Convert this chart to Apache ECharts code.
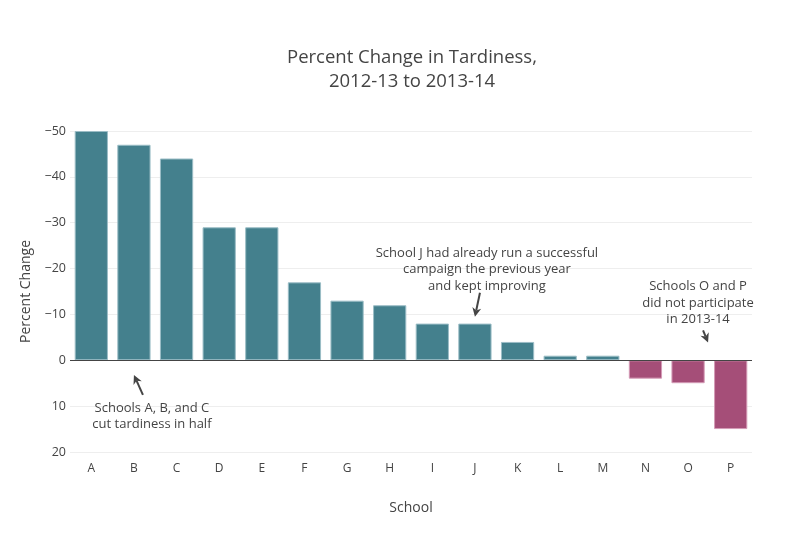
<!DOCTYPE html>
<html>
<head>
<meta charset="utf-8">
<script src="https://cdn.jsdelivr.net/npm/echarts@6/dist/echarts.min.js"></script>
<style>
  html, body { margin: 0; padding: 0; background: #fff; }
  #container { width: 800px; height: 533px; }
</style>
</head>
<body>
<div id="container"></div>
<script>
// chart data
var schools = ['A', 'B', 'C', 'D', 'E', 'F', 'G', 'H', 'I', 'J', 'K', 'L', 'M', 'N', 'O', 'P'];
var pctChange = [-50, -47, -44, -29, -29, -17, -13, -12, -8, -8, -4, -1, -1, 4, 5, 15];
var yTicks = [-50, -40, -30, -20, -10, 0, 10, 20];

var FONT = '"Open Sans", "Noto Sans", sans-serif';
var TXT = '#444';

var myChart = echarts.init(document.getElementById('container'));

var barData = pctChange.map(function (v) {
    var up = v > 0;
    return {
        value: v,
        itemStyle: {
            color: up ? '#a54e78' : '#44808d',
            borderColor: up ? '#d49bb6' : '#9bbdc6'
        }
    };
});

var option = {
    backgroundColor: '#fff',
    animation: false,
    title: {
        text: 'Percent Change in Tardiness,\n2012-13 to 2013-14',
        left: 407,
        top: 41,
        textAlign: 'center',
        textStyle: { fontFamily: FONT, fontSize: 18.5, fontWeight: 'normal', color: TXT, lineHeight: 24 }
    },
    grid: { left: 70, right: 48, top: 131, bottom: 81 },
    xAxis: {
        type: 'category',
        data: schools,
        name: 'School',
        nameLocation: 'middle',
        nameGap: 49,
        nameTextStyle: { fontFamily: FONT, fontSize: 14, color: TXT },
        axisLine: { show: false },
        axisTick: { show: false },
        axisLabel: { fontFamily: FONT, fontSize: 12, color: TXT, margin: 11 }
    },
    yAxis: {
        type: 'value',
        inverse: true,
        min: yTicks[0],
        max: yTicks[yTicks.length - 1],
        interval: 10,
        name: 'Percent Change',
        nameLocation: 'middle',
        nameRotate: 90,
        nameGap: 37,
        nameTextStyle: { fontFamily: FONT, fontSize: 14, color: TXT },
        axisLine: { show: false },
        axisTick: { show: false },
        splitLine: { lineStyle: { color: '#eeeeee', width: 1 } },
        axisLabel: {
            fontFamily: FONT, fontSize: 12.5, color: TXT, margin: 4,
            formatter: function (v) { return String(v).replace('-', '\u2212'); }
        }
    },
    series: [{
        type: 'bar',
        data: barData,
        barCategoryGap: '22%',
        itemStyle: { borderWidth: 1 },
        markLine: {
            silent: true,
            symbol: 'none',
            label: { show: false },
            lineStyle: { color: TXT, width: 1, type: 'solid' },
            data: [{ yAxis: 0 }]
        }
    }]
};
myChart.setOption(option);

// annotations, anchored on data points like plotly's arrows
function px(cat, val) {
    return myChart.convertToPixel({ gridIndex: 0 }, [cat, val]);
}

function arrow(head, dx, dy) {
    var tail = [head[0] + dx, head[1] + dy];
    var ang = Math.atan2(head[1] - tail[1], head[0] - tail[0]);
    var L = 9, W = 4.5;
    var bx = head[0] - L * Math.cos(ang), by = head[1] - L * Math.sin(ang);
    var nx = -Math.sin(ang), ny = Math.cos(ang);
    var mx = head[0] - L * 0.7 * Math.cos(ang), my = head[1] - L * 0.7 * Math.sin(ang);
    return [{
        type: 'line',
        shape: { x1: tail[0], y1: tail[1], x2: mx, y2: my },
        style: { stroke: TXT, lineWidth: 2 }
    }, {
        type: 'polygon',
        shape: { points: [head, [bx + nx * W, by + ny * W], [mx, my], [bx - nx * W, by - ny * W]] },
        style: { fill: TXT }
    }];
}

function note(x, y, txt) {
    return {
        type: 'text',
        x: x, y: y,
        style: {
            text: txt, fill: TXT, font: '13px ' + FONT,
            align: 'center', verticalAlign: 'top', lineHeight: 16.5
        }
    };
}

function annotations() {
    var els = [];
    var b = px('B', 3.2);
    els = els.concat(arrow(b, 9, 20));
    els.push(note(b[0] + 18, b[1] + 25, 'Schools A, B, and C\ncut tardiness in half'));

    var j = px('J', -9.5);
    els = els.concat(arrow(j, 5, -24));
    els.push(note(j[0] + 12, j[1] - 72, 'School J had already run a successful\ncampaign the previous year\nand kept improving'));

    var o = px('O', -3.9);
    o[0] += 20;
    els = els.concat(arrow(o, -5, -12));
    els.push(note(o[0] - 10, o[1] - 64, 'Schools O and P\ndid not participate\nin 2013-14'));
    return els;
}

myChart.setOption({ graphic: { elements: annotations() } });
</script>
</body>
</html>
